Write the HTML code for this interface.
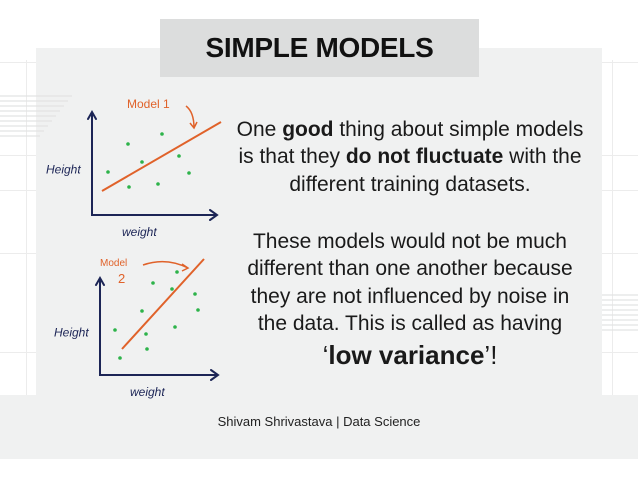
<!DOCTYPE html>
<html><head><meta charset="utf-8"><style>
html,body{margin:0;padding:0;background:#fff}
#root{position:relative;width:638px;height:479px;overflow:hidden;background:#fff;font-family:"Liberation Sans",sans-serif}
.grid{position:absolute;background:#ececec}
#panel{position:absolute;left:36px;top:48px;width:566px;height:348px;background:#f0f1f1}
#band{position:absolute;left:0;top:395px;width:638px;height:64px;background:#f0f1f1}
#title{position:absolute;left:160px;top:19px;width:319px;height:58px;background:#dcdddd;text-align:center;line-height:58px;font-weight:bold;font-size:28px;color:#111;letter-spacing:-0.3px}
.txt{position:absolute;left:200px;width:420px;text-align:center;font-size:21px;color:#1a1a1a;line-height:27.3px;white-space:nowrap}
#footer{position:absolute;left:0;width:638px;top:414px;text-align:center;font-size:13px;color:#222}
svg{position:absolute;left:0;top:0}
</style></head><body>
<div id="root">
<div class="grid" style="left:0;top:62px;width:638px;height:1px"></div>
<div class="grid" style="left:0;top:155px;width:638px;height:1px"></div>
<div class="grid" style="left:0;top:190px;width:638px;height:1px"></div>
<div class="grid" style="left:0;top:253px;width:638px;height:1px"></div>
<div class="grid" style="left:0;top:352px;width:638px;height:1px"></div>
<div class="grid" style="left:26px;top:60px;width:1px;height:340px"></div>
<div class="grid" style="left:612px;top:60px;width:1px;height:340px"></div>
<svg width="638" height="479">
<g stroke="#e2e3e3" stroke-width="1.2">
<line x1="580" y1="295" x2="638" y2="295"/><line x1="578" y1="300" x2="638" y2="300"/><line x1="576" y1="305" x2="638" y2="305"/><line x1="576" y1="310" x2="638" y2="310"/><line x1="578" y1="315" x2="638" y2="315"/><line x1="580" y1="320" x2="638" y2="320"/><line x1="584" y1="325" x2="638" y2="325"/><line x1="590" y1="330" x2="638" y2="330"/>
</g></svg>
<div id="panel"></div>
<div id="band"></div>
<div id="title">SIMPLE MODELS</div>
<div class="txt" style="top:116px">One <b>good</b> thing about simple models<br>is that they <b>do not fluctuate</b> with the<br>different training datasets.</div>
<div class="txt" style="top:228px">These models would not be much<br>different than one another because<br>they are not influenced by noise in<br>the data. This is called as having<br><span style="font-size:26px;line-height:36px">‘<b>low variance</b>’!</span></div>
<div id="footer">Shivam Shrivastava | Data Science</div>
<svg width="638" height="479">
<g stroke="#e2e3e3" stroke-width="1.2">
<line x1="0" y1="96" x2="72" y2="96"/><line x1="0" y1="101" x2="68" y2="101"/><line x1="0" y1="106" x2="64" y2="106"/><line x1="0" y1="111" x2="60" y2="111"/><line x1="0" y1="116" x2="56" y2="116"/><line x1="0" y1="121" x2="52" y2="121"/><line x1="0" y1="126" x2="48" y2="126"/><line x1="0" y1="131" x2="44" y2="131"/><line x1="0" y1="136" x2="40" y2="136"/>
</g>
<g id="c1"></g><g id="c2"></g>
</svg>
</div>
<script>
const c1x=[162,128,142,179,108,189,129,158];
const c1y=[134,144,162,156,172,173,187,184];
const c1line=[[102,191],[221,122]];
const c2x=[177,153,172,195,198,142,175,115,146,147,120];
const c2y=[272,283,289,294,310,311,327,330,334,349,358];
const c2line=[[122,349],[204,259]];
const NS="http://www.w3.org/2000/svg";
function mk(tag,attrs,parent){const e=document.createElementNS(NS,tag);for(const k in attrs)e.setAttribute(k,attrs[k]);parent.appendChild(e);return e;}
function chart(g,xs,ys,ln,ax,label,lx,ly,arrow){
  const navy="#1c2556",orange="#e0622a";
  let e=mk('path',{d:`M${ax.x} ${ax.top} L${ax.x} ${ax.bottom} L${ax.right} ${ax.bottom} M${ax.x-4} ${ax.top+7} L${ax.x} ${ax.top} L${ax.x+4} ${ax.top+7} M${ax.right-7} ${ax.bottom-5} L${ax.right} ${ax.bottom} L${ax.right-7} ${ax.bottom+5}`,stroke:navy,'stroke-width':2,fill:'none','stroke-linecap':'round'},g);
  
  
  e=mk('line',{x1:ln[0][0],y1:ln[0][1],x2:ln[1][0],y2:ln[1][1],stroke:orange,'stroke-width':2},g);
  
  
  for(let i=0;i<xs.length;i++){
    e=mk('circle',{cx:xs[i],cy:ys[i],r:1.8,fill:'#2db34a'},g);
    
    
  }
  e=mk('text',{x:ax.x-46,y:(ax.top+ax.bottom)/2+10,'font-family':'Liberation Sans, sans-serif','font-size':12,fill:navy,'font-style':'italic'},g);e.textContent='Height';
  
  
  e=mk('text',{x:ax.x+30,y:ax.bottom+21,'font-family':'Liberation Sans, sans-serif','font-size':12,fill:navy,'font-style':'italic'},g);e.textContent='weight';
  
  
  e=mk('text',{x:lx,y:ly,'font-family':'Liberation Sans, sans-serif','font-size':label.size,fill:orange},g);
  if(label.l2){e.textContent=label.l1;const t=mk('text',{x:lx+18,y:ly+17,'font-family':'Liberation Sans, sans-serif','font-size':13,fill:orange},g);t.textContent=label.l2;}
  else e.textContent=label.l1;
  
  
  e=mk('path',{d:arrow,stroke:orange,'stroke-width':1.5,fill:'none'},g);
  
  
}
chart(document.getElementById('c1'),c1x,c1y,c1line,{x:92,top:112,bottom:215,right:217},{l1:'Model 1',size:12},127,108,'M186 106 Q194 112 194 128 M190 123 L194 128 L197 122');
chart(document.getElementById('c2'),c2x,c2y,c2line,{x:100,top:278,bottom:375,right:218},{l1:'Model',l2:'2',size:10},100,266,'M143 265 Q166 257 188 268 M182 264 L188 268 L182 271');
</script>
</body></html>
